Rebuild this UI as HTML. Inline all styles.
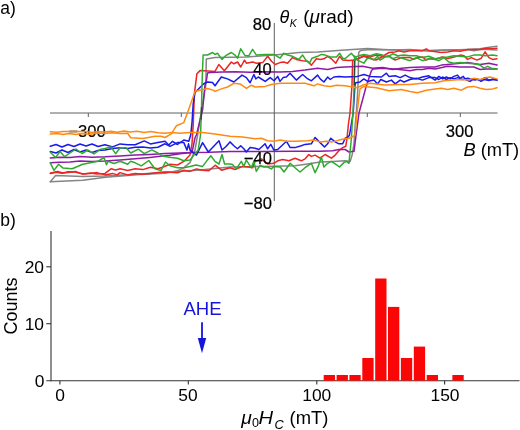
<!DOCTYPE html>
<html lang="en">
<head>
<meta charset="utf-8">
<title>Figure</title>
<style>
html,body{margin:0;padding:0;background:#fff;}
body{width:520px;height:430px;overflow:hidden;}
svg{display:block;}
</style>
</head>
<body>
<svg width="520" height="430" viewBox="0 0 520 430">
<rect width="520" height="430" fill="#fff"/>
<g stroke="#606060" stroke-width="1" fill="none">
<line x1="50" y1="113" x2="497.5" y2="113"/>
<line x1="274.3" y1="23" x2="274.3" y2="201"/>
<line x1="88.3" y1="113" x2="88.3" y2="117"/>
<line x1="181.3" y1="113" x2="181.3" y2="117"/>
<line x1="367.3" y1="113" x2="367.3" y2="117"/>
<line x1="460.3" y1="113" x2="460.3" y2="117"/>
</g>
<g>
<polyline points="50.3,181.7 55.6,175.6 82.8,176.4 105.5,176.0 140.0,174.0 170.0,171.9 200.0,170.0 230.0,167.0 262.0,166.4 295.0,165.8 307.5,163.9 320.1,162.0 332.6,161.4 345.2,160.8 350.2,161.4 352.1,155.1 354.0,143.8 355.2,125.0 356.3,113.0 357.5,95.0 358.2,80.0 358.4,66.0 358.7,52.5 360.5,50.4 370.0,49.6 410.0,50.0 426.0,50.7 447.6,50.0 467.5,49.4 475.0,49.0 480.0,48.8 487.6,47.5 497.0,46.3" fill="none" stroke="#858585" stroke-width="1.5" stroke-linejoin="round" stroke-linecap="round"/>
<polyline points="50.3,181.7 82.8,180.2 105.5,177.2 140.0,174.5 165.0,173.3 177.5,170.8 183.8,167.7 190.0,162.6 195.0,150.0 197.6,135.0 201.5,110.0 205.8,85.0 206.3,59.0 215.0,57.6 247.0,57.0 280.0,54.4 298.8,52.5 317.6,51.9 345.0,50.0 352.5,49.4 367.6,48.5 382.6,49.4 395.2,50.0 410.0,49.4 426.3,50.7 447.6,50.0 467.5,49.4 473.8,50.7 480.0,49.5 487.6,49.5 497.0,50.0" fill="none" stroke="#858585" stroke-width="1.5" stroke-linejoin="round" stroke-linecap="round"/>
<polyline points="50.3,173.4 56.0,172.3 62.0,173.2 68.0,171.8 75.0,172.0 83.0,174.0 90.0,173.4 97.0,172.6 105.0,174.9 112.6,173.4 117.1,174.9 120.1,172.6 127.7,174.9 135.2,173.4 142.8,174.2 150.4,173.4 158.0,172.6 165.5,171.9 170.0,172.3 177.5,172.7 183.8,170.2 190.0,171.4 196.4,168.9 202.6,170.2 208.9,170.8 215.2,165.2 221.5,170.2 230.0,167.7 235.0,169.5 242.5,166.4 248.8,167.0 252.6,167.7 255.1,161.4 261.4,158.9 267.6,163.9 273.9,163.3 277.7,160.8 282.7,159.5 289.0,160.8 295.0,158.2 301.3,160.8 305.0,158.9 308.8,154.5 311.3,156.4 315.1,155.1 320.1,158.2 325.1,154.5 331.4,158.2 335.2,155.1 338.9,150.7 342.7,147.6 345.8,146.3 347.1,137.5 348.3,125.0 350.0,113.0 352.0,85.0 352.6,61.0 357.5,58.8 363.8,55.7 370.0,56.9 376.4,55.1 382.6,56.3 388.9,52.5 395.2,51.9 399.0,50.7 404.0,51.9 410.0,50.7 422.5,50.7 426.3,48.8 428.8,50.7 441.4,52.5 447.6,51.9 453.9,50.7 460.2,51.3 467.5,49.4 480.1,49.4 486.4,48.2 492.6,48.8 497.0,48.2" fill="none" stroke="#ec2424" stroke-width="1.5" stroke-linejoin="round" stroke-linecap="round"/>
<polyline points="50.3,173.2 57.5,171.5 63.0,173.0 68.0,172.5 75.2,171.4 82.8,174.1 90.3,173.0 97.0,174.0 105.0,173.4 111.0,168.8 115.6,170.0 120.1,168.8 127.7,170.4 135.2,168.8 142.8,169.6 150.4,167.3 157.9,168.8 162.4,167.3 170.0,164.3 177.5,165.0 183.8,161.4 190.0,155.0 192.0,143.8 193.2,125.0 194.4,93.7 196.9,73.7 200.0,70.6 208.0,70.9 215.0,71.4 218.8,64.5 224.4,70.7 231.3,62.0 233.8,63.8 237.6,62.0 240.7,67.0 244.5,60.1 246.4,63.2 252.6,62.0 256.4,63.2 262.7,62.6 267.7,56.3 271.5,61.3 275.2,64.5 280.0,62.6 283.8,62.0 287.5,63.2 292.5,57.6 296.3,59.4 302.6,60.7 307.6,61.3 311.4,65.1 316.4,58.8 320.2,59.4 323.9,58.8 327.7,56.3 331.4,58.8 335.8,63.2 339.6,56.3 342.7,60.1 349.0,60.4 355.0,60.1 363.9,56.3 370.0,58.5 376.0,60.0 382.0,57.0 388.9,56.3 395.2,60.1 401.5,57.6 410.0,57.6 413.8,59.4 417.5,57.6 422.5,56.9 426.3,60.1 430.1,58.2 436.0,59.4 442.0,57.0 448.0,58.4 454.0,57.0 460.2,55.1 464.0,55.7 467.5,59.4 471.3,57.6 477.0,60.1 481.3,58.2 485.1,51.9 488.9,57.6 492.6,59.4 497.0,58.8" fill="none" stroke="#ec2424" stroke-width="1.5" stroke-linejoin="round" stroke-linecap="round"/>
<polyline points="50.3,158.0 60.0,157.3 70.0,157.6 80.0,156.6 92.0,157.2 105.0,156.8 120.0,156.0 135.0,155.0 150.0,154.4 165.0,153.6 180.0,153.0 192.0,152.6 210.0,152.3 230.0,151.5 260.0,151.4 295.0,151.3 320.0,151.3 332.6,150.7 338.9,149.5 345.2,149.5 349.0,152.0 354.0,151.3 355.7,138.0 359.0,113.0 366.0,87.0 371.5,70.5 373.2,69.0 382.6,68.2 395.0,69.0 410.0,70.7 416.3,69.5 422.5,69.5 428.8,68.2 435.1,68.9 447.6,66.3 460.2,67.0 466.5,67.0 473.8,67.0 480.1,69.5 486.4,68.9 497.0,68.9" fill="none" stroke="#8f1aa6" stroke-width="1.5" stroke-linejoin="round" stroke-linecap="round"/>
<polyline points="50.3,162.8 60.0,162.2 70.0,162.0 80.0,161.0 92.0,161.5 105.0,161.0 120.0,160.0 135.0,158.8 150.0,157.4 160.0,156.3 170.0,155.2 182.0,153.6 192.0,152.6 195.1,137.5 196.4,135.0 202.6,110.0 205.0,85.0 206.5,80.0 207.5,73.0 210.0,72.5 222.0,71.9 235.0,71.7 250.0,72.2 265.0,71.7 280.0,72.0 292.5,71.4 305.1,70.1 317.6,68.2 327.7,69.5 336.5,67.6 345.0,67.0 362.5,66.3 372.6,68.2 382.6,67.6 392.7,69.5 401.5,68.2 410.0,67.6 422.5,67.0 435.1,67.0 441.4,65.1 447.6,64.5 460.2,63.2 467.5,62.6 480.1,64.5 488.9,63.2 497.0,65.1" fill="none" stroke="#8f1aa6" stroke-width="1.5" stroke-linejoin="round" stroke-linecap="round"/>
<polyline points="50.3,151.5 56.0,153.0 62.0,150.0 68.0,152.5 74.0,149.5 80.0,152.0 86.0,150.0 92.0,152.5 98.0,150.5 105.0,150.0 112.6,148.4 120.1,147.7 127.7,148.6 135.2,147.3 142.8,146.9 150.4,148.0 157.9,147.2 165.0,143.8 170.0,146.3 177.5,142.6 183.8,142.6 187.0,150.1 188.5,143.8 190.0,150.1 196.4,155.1 202.6,142.6 208.3,152.0 219.0,140.7 222.0,150.0 226.0,146.5 230.0,141.9 233.8,145.7 237.5,148.8 240.7,145.7 243.8,148.8 246.3,152.0 250.1,147.6 255.1,148.2 258.9,149.5 265.1,143.8 267.6,148.8 270.8,144.4 273.9,150.1 277.7,149.5 286.5,141.3 290.2,147.6 295.0,147.6 301.3,145.7 305.0,144.4 311.3,143.8 315.1,137.5 320.1,142.6 324.5,147.0 327.6,143.8 330.8,138.2 335.2,141.9 338.9,143.8 342.7,143.8 345.2,138.2 348.3,136.9 349.5,135.0 353.2,113.0 355.0,85.0 355.7,82.7 360.0,82.0 363.8,78.9 367.6,81.4 373.9,80.1 377.6,83.9 380.8,79.5 386.4,82.0 391.4,80.1 395.2,83.9 400.2,80.1 404.0,82.0 410.0,79.5 416.3,78.3 422.5,80.1 428.8,77.6 435.1,77.6 438.9,79.5 442.6,77.0 446.4,79.5 450.2,77.6 453.9,78.9 457.7,77.6 462.7,79.5 467.7,78.3 475.0,80.1 477.5,79.0 481.0,81.4 484.0,79.5 489.0,80.5 493.0,79.0 497.0,80.1" fill="none" stroke="#1a1ae6" stroke-width="1.5" stroke-linejoin="round" stroke-linecap="round"/>
<polyline points="50.3,146.2 56.0,144.5 62.0,147.0 68.0,144.5 74.0,146.5 80.0,144.0 86.0,146.0 92.0,144.0 98.0,146.5 105.0,144.7 112.6,146.9 120.1,143.9 127.7,144.7 135.2,144.7 144.3,140.9 150.4,143.9 157.9,142.4 165.0,141.3 168.8,145.0 172.5,141.3 177.5,144.5 183.8,140.0 188.8,141.3 190.7,135.0 192.0,122.6 193.2,103.8 195.0,92.5 203.7,83.7 207.5,82.0 212.5,82.5 215.0,85.8 221.3,77.0 227.5,78.9 233.8,82.0 242.0,75.1 246.4,77.6 250.1,82.7 253.9,74.5 255.8,78.9 258.3,77.0 265.2,81.4 270.2,77.6 274.0,80.8 277.7,76.4 280.0,81.4 283.1,77.6 286.3,77.0 290.0,73.2 296.3,80.1 302.6,74.5 307.0,78.3 311.4,80.8 317.6,75.1 320.2,78.9 323.9,82.0 327.7,77.0 330.2,79.5 333.9,77.0 339.0,76.4 345.0,77.0 357.5,76.4 363.8,74.5 370.0,76.4 381.4,77.0 386.4,73.2 388.9,76.4 395.2,75.8 400.2,77.6 405.2,75.1 410.0,77.6 416.3,78.9 422.5,77.0 428.8,75.8 435.1,80.1 438.9,76.4 442.6,78.9 446.4,77.0 450.2,78.9 453.9,76.4 457.5,75.1 460.0,78.3 463.2,76.4 466.3,80.1 470.0,81.4 473.8,78.9 480.1,80.1 485.1,77.6 488.9,80.1 492.6,79.5 497.0,80.1" fill="none" stroke="#1a1ae6" stroke-width="1.5" stroke-linejoin="round" stroke-linecap="round"/>
<polyline points="50.3,162.8 54.0,170.4 58.6,164.3 63.1,168.1 72.2,168.8 82.8,164.3 90.4,162.8 97.9,161.3 104.0,157.5 106.5,164.8 108.0,161.3 114.1,163.5 120.1,161.3 127.7,164.3 130.7,161.3 135.2,162.8 141.3,165.8 148.8,160.5 154.9,168.8 161.0,170.4 165.5,162.0 170.0,165.8 177.5,167.7 183.8,167.7 190.0,166.5 196.0,165.0 202.6,166.4 206.4,161.4 210.8,155.7 215.0,161.4 219.0,164.0 222.0,154.5 224.6,164.0 230.0,163.9 232.5,164.5 236.3,168.9 241.3,161.4 243.8,166.4 246.3,160.1 251.3,167.7 253.8,161.4 256.3,171.4 260.1,165.2 263.9,167.0 267.6,167.0 271.4,168.9 273.9,166.4 280.2,167.0 284.0,172.0 290.2,163.3 295.0,167.7 300.0,172.0 305.0,167.7 311.3,163.3 315.1,172.7 318.2,166.4 321.3,157.0 323.9,167.0 327.6,163.3 331.4,161.4 335.2,163.9 339.5,167.0 343.9,162.6 346.4,161.4 349.0,163.3 350.2,150.1 351.5,137.5 352.1,125.0 353.0,113.0 354.2,85.0 354.6,56.0 357.5,60.1 363.8,63.2 367.0,58.8 370.1,57.6 373.9,60.1 377.6,56.3 380.1,60.1 385.2,56.9 388.9,55.7 392.7,58.8 397.7,56.9 404.0,58.8 410.0,60.7 416.3,57.6 422.5,60.7 428.8,58.8 435.1,59.4 438.9,60.7 443.9,57.6 448.9,62.0 453.9,63.2 460.2,62.6 467.5,63.2 473.8,63.8 480.1,65.1 483.9,68.2 487.6,66.3 491.4,68.2 497.0,68.9" fill="none" stroke="#2faa2f" stroke-width="1.5" stroke-linejoin="round" stroke-linecap="round"/>
<polyline points="50.3,152.2 55.6,157.5 60.1,151.5 64.6,156.7 70.0,153.0 76.0,149.0 82.0,153.5 88.0,150.0 94.0,154.0 100.0,149.5 105.0,148.4 111.0,146.9 115.6,153.7 120.1,147.7 126.2,147.7 130.7,153.0 138.3,149.2 144.3,153.7 151.9,149.9 157.9,153.0 162.4,156.0 165.0,156.4 171.3,157.6 177.5,158.2 183.8,160.8 190.0,160.0 193.9,155.1 198.2,150.0 200.5,135.0 201.4,113.0 202.0,85.0 203.1,55.0 207.5,55.0 212.5,52.5 215.0,54.4 217.5,53.3 221.9,59.4 225.7,55.7 231.3,52.5 235.1,55.1 237.6,58.2 240.7,48.8 245.1,55.7 248.9,55.7 252.6,49.4 256.4,55.1 265.2,54.4 274.0,54.4 280.0,58.2 283.8,53.2 287.5,55.1 292.5,56.3 298.8,59.4 302.6,55.1 306.3,60.7 309.5,63.2 312.0,58.2 317.6,56.3 321.4,54.4 325.2,55.1 330.2,56.9 336.5,56.9 339.6,53.2 342.7,58.2 345.0,58.8 351.3,53.2 355.0,57.6 358.8,55.7 363.8,54.4 370.1,55.7 376.4,53.8 382.6,55.1 387.7,56.9 392.7,53.8 397.7,55.7 404.0,55.1 410.0,55.7 416.3,55.7 422.5,57.6 428.8,56.3 435.1,58.8 441.4,57.6 447.6,56.9 453.9,55.7 460.2,56.3 467.5,56.9 473.8,55.1 480.1,55.1 485.1,55.7 492.6,55.1 497.0,55.7" fill="none" stroke="#2faa2f" stroke-width="1.5" stroke-linejoin="round" stroke-linecap="round"/>
<polyline points="201.5,107.5 201.3,119.0" fill="none" stroke="#2e4a34" stroke-width="1.4" stroke-linejoin="round" stroke-linecap="round"/>
<polyline points="354.7,61.5 354.3,85.0" fill="none" stroke="#244a3a" stroke-width="1.4" stroke-linejoin="round" stroke-linecap="round"/>
</g>
<g font-family="Liberation Sans, Arial, Helvetica, sans-serif" font-size="16.6" fill="#000" stroke="#000" stroke-width="0.2">
<text x="271.3" y="29.5" text-anchor="end">80</text>
<text x="271.8" y="74.5" text-anchor="end">40</text>
<text x="272" y="164.3" text-anchor="end">−40</text>
<text x="272" y="208.5" text-anchor="end">−80</text>
<text x="105.8" y="137" text-anchor="end">−300</text>
<text x="459.6" y="136.8" text-anchor="middle">300</text>
</g>
<g>
<polyline points="50.3,131.8 57.0,132.3 63.0,131.5 68.0,131.6 79.5,131.6 86.0,131.4 92.0,132.4 98.0,131.6 105.0,131.9 111.0,131.2 117.0,132.3 124.0,131.0 130.0,132.0 137.0,131.3 144.0,132.4 151.0,131.6 158.0,132.7 165.0,133.3 172.0,132.6 180.0,133.3 190.0,132.6 202.6,132.5 215.0,134.0 230.0,136.3 242.5,136.9 255.1,138.8 261.4,138.2 267.6,140.7 273.9,141.3 280.2,140.1 286.5,141.3 295.0,141.3 307.5,140.7 313.8,140.1 320.1,141.9 326.4,141.3 332.6,141.9 338.9,140.1 345.2,138.8 349.0,138.2 353.0,136.5 355.0,135.0 357.0,113.0 360.0,88.8 363.8,86.4 376.4,87.7 388.9,90.8 401.5,89.6 410.0,91.4 417.5,92.7 426.3,90.2 435.1,88.9 441.4,88.3 447.6,89.6 453.9,88.3 461.3,90.2 467.5,87.0 473.8,86.4 480.1,88.3 486.4,89.6 492.6,88.9 497.0,87.7" fill="none" stroke="#ff8a12" stroke-width="1.5" stroke-linejoin="round" stroke-linecap="round"/>
<polyline points="50.3,134.0 57.0,133.6 63.0,134.6 69.0,133.5 76.0,134.4 83.0,133.4 90.0,134.2 97.0,133.0 105.0,133.4 112.0,132.8 120.0,133.6 127.6,133.3 130.7,137.8 143.0,138.6 155.0,136.3 161.0,136.3 165.0,137.5 171.3,133.8 176.3,125.8 183.8,122.6 187.6,112.6 195.1,91.3 201.0,90.0 207.6,88.5 213.7,90.4 215.0,91.4 221.3,88.9 227.5,87.0 233.8,83.3 240.1,83.9 246.4,88.3 251.4,85.2 255.2,87.0 265.2,86.4 271.5,84.5 280.0,83.3 292.5,83.3 305.1,83.3 313.9,85.8 317.6,83.9 323.9,85.8 330.2,86.4 336.5,85.2 345.0,85.8 352.5,87.0 357.5,87.7 363.0,85.0 370.0,83.3 385.0,85.0 400.0,84.5 410.0,84.5 422.5,83.3 435.1,82.7 443.9,80.8 453.9,80.1 461.3,79.5 467.5,80.1 473.8,78.3 480.1,79.5 486.4,77.6 490.1,77.0 497.0,78.9" fill="none" stroke="#ff8a12" stroke-width="1.5" stroke-linejoin="round" stroke-linecap="round"/>
</g>
<text font-family="Liberation Sans, Arial, Helvetica, sans-serif" font-size="18" fill="#000" x="279.5" y="22.5" font-style="italic">θ</text>
<text font-family="Liberation Sans, Arial, Helvetica, sans-serif" font-size="10.5" fill="#000" x="289.8" y="27" font-style="italic">K</text>
<text font-family="Liberation Sans, Arial, Helvetica, sans-serif" font-size="19" fill="#000" x="303.2" y="22.5" textLength="50.5" lengthAdjust="spacing">(<tspan font-style="italic">μ</tspan>rad)</text>
<text font-family="Liberation Sans, Arial, Helvetica, sans-serif" font-size="18.3" fill="#000" x="463.6" y="155.7" textLength="55.5" lengthAdjust="spacing"><tspan font-style="italic">B</tspan> (mT)</text>
<text font-family="Liberation Sans, Arial, Helvetica, sans-serif" font-size="17.5" fill="#000" x="0.3" y="13.8">a)</text>
<text font-family="Liberation Sans, Arial, Helvetica, sans-serif" font-size="17.5" fill="#000" x="0.3" y="225.6">b)</text>
<g stroke="#333" stroke-width="1.1" fill="none">
<line x1="51" y1="231" x2="51" y2="381.2"/>
<line x1="46.3" y1="380.7" x2="519.5" y2="380.7"/>
<line x1="46.3" y1="266.8" x2="51" y2="266.8"/>
<line x1="46.3" y1="323.7" x2="51" y2="323.7"/>
<line x1="59.9" y1="380.7" x2="59.9" y2="384.5"/>
<line x1="188.3" y1="380.7" x2="188.3" y2="384.5"/>
<line x1="316.8" y1="380.7" x2="316.8" y2="384.5"/>
<line x1="444.6" y1="380.7" x2="444.6" y2="384.5"/>
</g>
<rect x="323.7" y="375.0" width="11.3" height="5.7" fill="#fa0606"/>
<rect x="336.6" y="375.0" width="11.3" height="5.7" fill="#fa0606"/>
<rect x="349.4" y="375.0" width="11.3" height="5.7" fill="#fa0606"/>
<rect x="362.3" y="358.0" width="11.3" height="22.7" fill="#fa0606"/>
<rect x="375.2" y="278.5" width="11.3" height="102.2" fill="#fa0606"/>
<rect x="388.0" y="306.9" width="11.3" height="73.8" fill="#fa0606"/>
<rect x="400.9" y="358.0" width="11.3" height="22.7" fill="#fa0606"/>
<rect x="413.8" y="346.6" width="11.3" height="34.1" fill="#fa0606"/>
<rect x="426.7" y="375.0" width="11.3" height="5.7" fill="#fa0606"/>
<rect x="452.4" y="375.0" width="11.3" height="5.7" fill="#fa0606"/>
<g font-family="Liberation Sans, Arial, Helvetica, sans-serif" font-size="17.4" fill="#000">
<text x="44" y="273.2" text-anchor="end">20</text>
<text x="44" y="330.1" text-anchor="end">10</text>
<text x="44.5" y="387.1" text-anchor="end">0</text>
<text x="60" y="401.3" text-anchor="middle">0</text>
<text x="188" y="401.3" text-anchor="middle">50</text>
<text x="316.8" y="401.3" text-anchor="middle">100</text>
<text x="445" y="401.3" text-anchor="middle">150</text>
</g>
<text font-family="Liberation Sans, Arial, Helvetica, sans-serif" font-size="18" fill="#000" transform="translate(16.5,306) rotate(-90)" text-anchor="middle">Counts</text>
<text font-family="Liberation Sans, Arial, Helvetica, sans-serif" font-size="19.3" fill="#000" x="241.3" y="423.6" font-style="italic">μ</text>
<text font-family="Liberation Sans, Arial, Helvetica, sans-serif" font-size="12.6" fill="#000" x="252" y="426.5">0</text>
<text font-family="Liberation Sans, Arial, Helvetica, sans-serif" font-size="17.6" fill="#000" x="258.6" y="423.6" font-style="italic" textLength="14.6" lengthAdjust="spacingAndGlyphs">H</text>
<text font-family="Liberation Sans, Arial, Helvetica, sans-serif" font-size="12.8" fill="#000" x="274.4" y="428.8" font-style="italic">C</text>
<text font-family="Liberation Sans, Arial, Helvetica, sans-serif" font-size="18.4" fill="#000" x="289.6" y="423.6" textLength="38.8" lengthAdjust="spacing">(mT)</text>
<text font-family="Liberation Sans, Arial, Helvetica, sans-serif" font-size="18" fill="#1414dc" x="183.4" y="314.8" textLength="38.2" lengthAdjust="spacingAndGlyphs">AHE</text>
<line x1="202" y1="322.3" x2="202" y2="340" stroke="#1414dc" stroke-width="1.8"/>
<polygon points="197.8,338 206.2,338 202,353.3" fill="#1414dc"/>
</svg>
</body>
</html>
